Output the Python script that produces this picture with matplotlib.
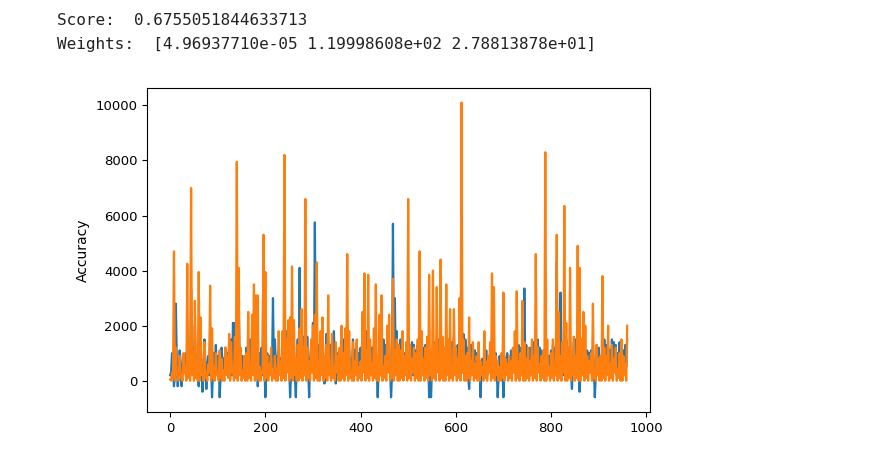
import numpy as np
import matplotlib.pyplot as plt

# peaks, sampled every 4 steps
orange = [50, 300, 4700, 1200, 300, 900, 200, 1000, 300, 4250,
          500, 7000, 900, 2900, 300, 3950, 2300, 400, 1400, 300,
          600, 3450, 1900, 500, 1000, 200, 1100, 800, 300, 1200,
          900, 1700, 1400, 500, 1600, 7950, 4100, 1200, 300, 900,
          1000, 2500, 400, 2400, 3500, 3100, 3100, 500, 300, 5300,
          3950, 900, 600, 1200, 300, 900, 400, 1800, 700, 1800,
          8200, 1500, 2200, 2300, 4150, 2200, 800, 1300, 1900, 2600,
          1200, 6600, 1200, 700, 1500, 2000, 2400, 4300, 700, 1800,
          2300, 900, 1300, 3100, 400, 1700, 500, 1400, 900, 1200,
          2000, 1000, 1900, 4600, 1800, 300, 1400, 700, 1500, 500,
          700, 2500, 3900, 1100, 3850, 1500, 600, 1900, 3500, 900,
          2400, 3100, 500, 900, 2000, 2400, 400, 3700, 1100, 1500,
          1300, 1100, 1800, 900, 1400, 6600, 1300, 800, 1200, 1000,
          1500, 4700, 1800, 800, 1200, 1600, 3850, 1000, 4000, 1300,
          3400, 800, 4400, 1600, 1200, 3500, 1500, 2600, 600, 2600,
          1200, 800, 3000, 10100, 1500, 900, 1000, 2300, 700, 1400,
          600, 900, 1400, 700, 500, 1800, 700, 900, 1400, 3900,
          3400, 900, 700, 500, 1000, 3200, 800, 600, 900, 700,
          1200, 1800, 3250, 700, 1000, 2900, 1400, 800, 1200, 700,
          1500, 900, 4600, 1200, 600, 900, 1100, 8300, 1500, 500,
          1000, 1500, 600, 5300, 2500, 900, 1400, 6350, 2100, 1200,
          4100, 800, 1600, 900, 4900, 4100, 1500, 2500, 2000, 900,
          700, 1000, 2800, 400, 1300, 800, 900, 3800, 1200, 900,
          2000, 600, 1300, 800, 1200, 400, 1000, 1500, 900, 600, 2000]

blue = [200, 1000, -200, 2800, -200, 1100, -200, 900, 1000, 800,
        1000, 3300, 1200, 2000, 900, -200, 1400, -400, 1500, -300,
        900, 1900, -600, 1000, 1300, 900, -600, 1200, 800, 1200,
        1000, 1300, 1500, 2100, 2100, 1500, 3000, 1000, 900, 700,
        1200, 1000, 1500, 1300, 1600, 1500, -200, 1000, 1200, 4900,
        -600, 1000, 900, 800, 3000, 1500, 900, 1100, 800, 1400,
        2300, 1800, 1500, -600, 1400, 1200, -600, 1500, 4100, 1700,
        1600, 1400, 1600, -600, 1200, 2100, 5750, 1600, 1300, 900,
        1200, -100, 1700, 1000, 1300, 1400, 1800, -100, 1000, 1100,
        1300, 1500, 900, 1000, 1100, 800, 1500, 1100, 1400, 1000,
        1200, 1500, 1700, 1800, 1300, 1200, 1200, 1300, 1300, -600,
        1800, 1400, 1500, 1300, 1400, 1200, -600, 5700, 3000, 1800,
        1300, 1500, 1400, 1000, 1200, 1300, 1200, 1400, 1300, 1100,
        1300, 1200, 1500, 1200, 1300, 1300, -600, -600, 1300, 1400,
        1200, 1500, 1400, 1300, 1100, 1400, 1500, 1200, 1400, 1600,
        1200, 1300, 1600, 1800, 1700, 1500, 1200, -300, 1300, 1200,
        1100, 1000, 900, -600, 800, 1000, 1100, 900, 800, 1200,
        1100, 1000, -600, 900, 800, -600, 800, 1000, 700, 1100,
        1000, 1100, 1200, 1300, 1200, 1400, 3350, 1300, 1100, 1200,
        1200, 1400, 1300, 1500, 1200, 1100, 1000, 1200, 300, 900,
        1100, 1300, 1200, 4300, 1500, 3200, 1400, 1600, 1500, 1200,
        1300, -300, 1400, 1500, 1300, -400, 1200, 1000, 900, 1100,
        1000, 1100, 1200, -600, 1300, 1200, 900, 1500, 1500, 1300,
        1200, 1100, 1500, 1400, 1300, 1000, 1400, 1200, 1100, 1300, 1500]

# low values between the samples (hundreds)
orange_low = [0, 1, 0, 2, 0, 1, 0, 3, 0, 1, 0, 2, 0, 1, 0, 0, 2, 0, 1, 0,
              3, 0, 1, 0, 2, 0, 1, 0, 0, 2, 1, 0, 3, 0, 1, 0, 2, 0, 1, 0,
              0, 1, 0, 2, 0, 1, 0, 0, 3, 0, 1, 0, 2, 0, 1, 0, 0, 2, 0, 1,
              0, 3, 0, 1, 0, 2, 0, 0, 1, 0, 2, 0, 1, 0, 3, 0, 1, 0, 0, 2,
              0, 1, 0, 2, 0, 1, 0, 3, 0, 0, 1, 0, 2, 0, 1, 0, 0, 2, 0, 1,
              0, 3, 0, 1, 0, 2, 0, 1, 0, 0, 2, 0, 1, 0, 3, 0, 1, 0, 2, 0,
              0, 1, 0, 2, 0, 1, 0, 3, 0, 1, 0, 0, 2, 0, 1, 0, 2, 0, 1, 0,
              3, 0, 1, 0, 0, 2, 0, 1, 0, 2, 0, 1, 0, 3, 0, 0, 1, 0, 2, 0,
              1, 0, 0, 2, 0, 1, 0, 3, 0, 1, 0, 2, 0, 0, 1, 0, 2, 0, 1, 0,
              3, 0, 1, 0, 2, 0, 0, 1, 0, 2, 0, 1, 0, 3, 0, 1, 0, 0, 2, 0,
              1, 0, 2, 0, 1, 0, 3, 0, 0, 1, 0, 2, 0, 1, 0, 0, 2, 0, 1, 0,
              3, 0, 1, 0, 2, 0, 0, 1, 0, 2, 0, 1, 0, 3, 0, 1, 0, 0, 2, 0]
blue_low = [3, 5, 2, 6, 4, 7, 3, 5, 6, 2, 4, 8, 3, 5, 2, 6, 4, 3, 7, 5,
            2, 6, 4, 5, 3, 7, 2, 4, 6, 3, 5, 8, 2, 4, 6, 3, 5, 2, 7, 4,
            3, 6, 2, 5, 4, 7, 3, 5, 2, 6, 4, 3, 8, 5, 2, 6, 4, 3, 7, 5,
            2, 4, 6, 3, 5, 2, 7, 4, 3, 6, 2, 5, 4, 8, 3, 5, 2, 6, 4, 3,
            7, 5, 2, 6, 4, 5, 3, 7, 2, 4, 6, 3, 5, 8, 2, 4, 6, 3, 5, 2,
            7, 4, 3, 6, 2, 5, 4, 7, 3, 5, 2, 6, 4, 3, 8, 5, 2, 6, 4, 3,
            7, 5, 2, 4, 6, 3, 5, 2, 7, 4, 3, 6, 2, 5, 4, 8, 3, 5, 2, 6,
            4, 3, 7, 5, 2, 6, 4, 5, 3, 7, 2, 4, 6, 3, 5, 8, 2, 4, 6, 3,
            5, 2, 7, 4, 3, 6, 2, 5, 4, 7, 3, 5, 2, 6, 4, 3, 8, 5, 2, 6,
            4, 3, 7, 5, 2, 4, 6, 3, 5, 2, 7, 4, 3, 6, 2, 5, 4, 8, 3, 5,
            2, 6, 4, 3, 7, 5, 2, 6, 4, 5, 3, 7, 2, 4, 6, 3, 5, 8, 2, 4,
            6, 3, 5, 2, 7, 4, 3, 6, 2, 5, 4, 7, 3, 5, 2, 6, 4, 3, 8, 5]


def merge(high, low):
    # interleave the sampled values with the low values in between
    xs, ys = [], []
    for i, v in enumerate(high):
        xs.append(i * 4)
        ys.append(v)
        if i < len(low):
            xs.append(i * 4 + 2)
            ys.append(low[i] * 100)
    return xs, ys


bx, by = merge(blue, blue_low)
ox, oy = merge(orange, orange_low)

fig = plt.figure(figsize=(8.82, 4.65), dpi=100)
fig.text(0.065, 0.955, "Score:  0.6755051844633713", family="DejaVu Sans Mono",
         fontsize=11.5, va="center", color="#222222")
fig.text(0.065, 0.905, "Weights:  [4.96937710e-05 1.19998608e+02 2.78813878e+01]",
         family="DejaVu Sans Mono", fontsize=11.5, va="center", color="#222222")

ax = fig.add_axes([0.167, 0.114, 0.57, 0.697])
ax.plot(bx, by, color="#1f77b4", linewidth=1.6)
ax.plot(ox, oy, color="#ff7f0e", linewidth=1.6)
ax.set_ylabel("Accuracy")
ax.tick_params(labelsize=9.5)
ax.set_ylim(-1135, 10635)
ax.set_xlim(-48, 1008)

plt.savefig("out.png")
